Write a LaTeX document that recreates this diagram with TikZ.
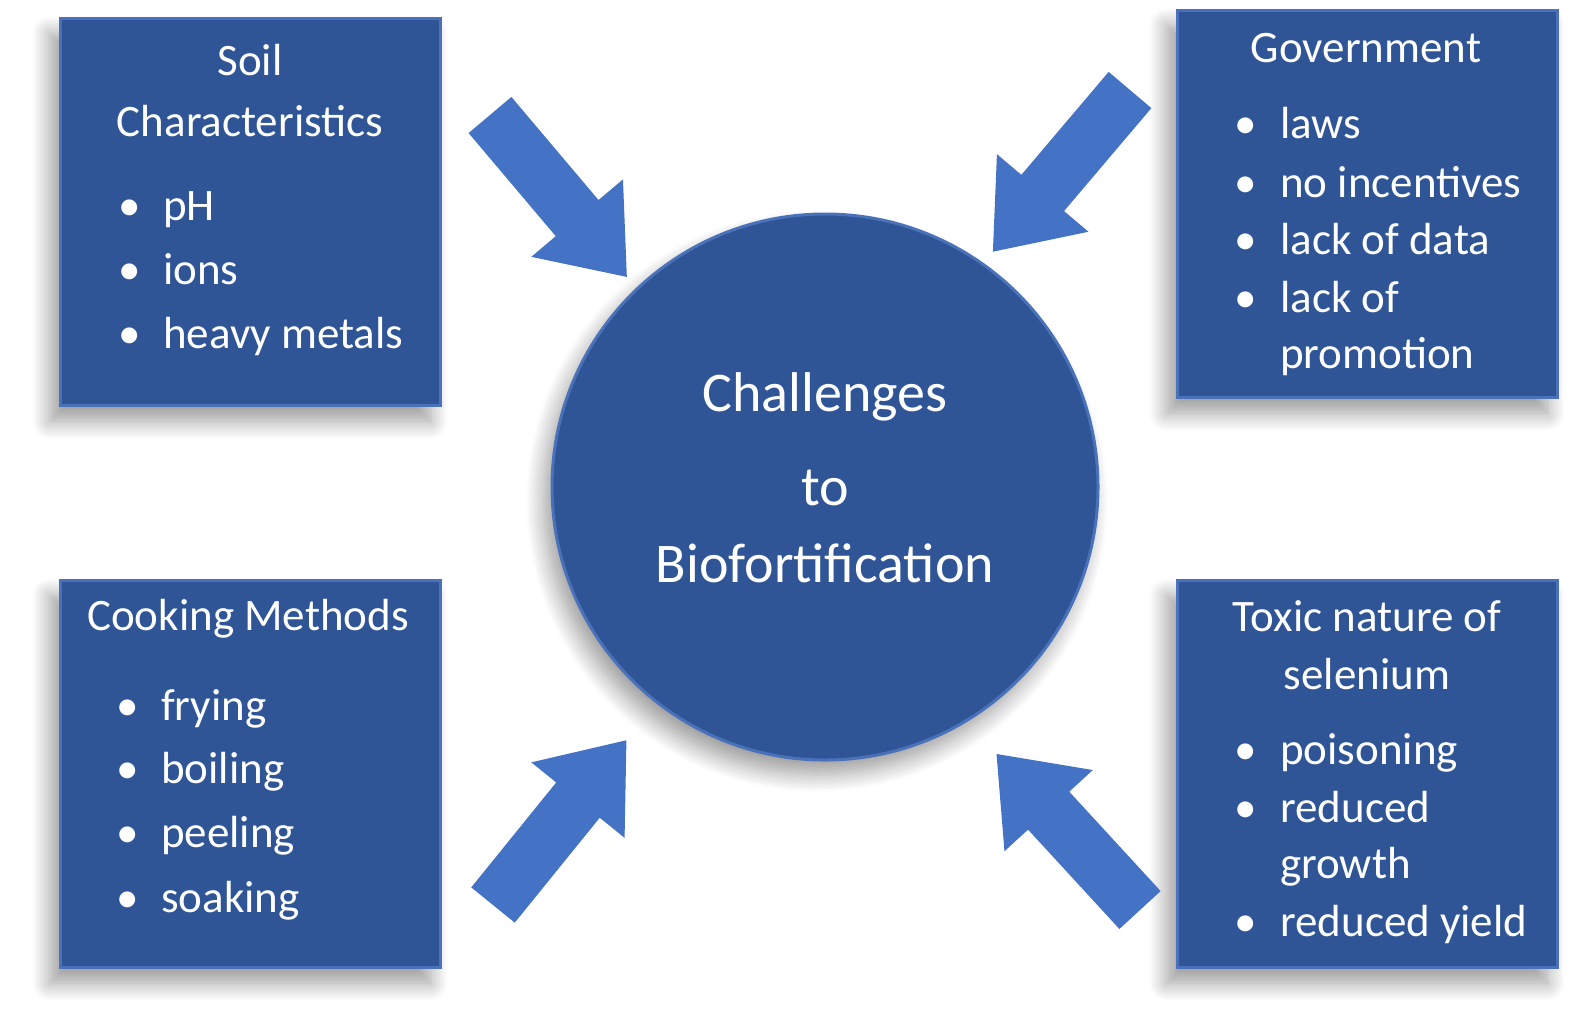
\documentclass[tikz,border=0pt]{standalone}
\usepackage{fontspec}
\setmainfont{Carlito}
\usetikzlibrary{shadows.blur}
\definecolor{boxblue}{HTML}{2F5597}
\definecolor{edgeblue}{HTML}{4A72BA}
\definecolor{arrblue}{HTML}{4472C4}
\begin{document}
\begin{tikzpicture}[x=1pt,y=-1pt,
  panel/.style={fill=boxblue,draw=edgeblue,line width=3pt,blur shadow={shadow xshift=-10pt,shadow yshift=-16pt,shadow blur radius=18pt,shadow blur steps=14,shadow opacity=40}},
  txt/.style={text=white,font=\fontsize{45}{52}\selectfont,inner sep=0pt},
  ttl/.style={txt,anchor=center},
  itm/.style={txt,anchor=base west},
  bul/.style={txt,anchor=base},
  bigt/.style={ttl,font=\fontsize{56}{64}\selectfont},
  barrow/.style={fill=arrblue}]
\useasboundingbox (0,0) rectangle (1570,1018);
% boxes
\draw[panel] (60,18) rectangle (440,405);
\draw[panel] (1177,10) rectangle (1557,397);
\draw[panel] (60,580) rectangle (440,967);
\draw[panel] (1177,580) rectangle (1557,967);
% circle
\node[circle,minimum size=546pt,fill=boxblue,draw=edgeblue,line width=3pt,blur shadow={shadow xshift=-8pt,shadow yshift=-14pt,shadow blur radius=18pt,shadow blur steps=14,shadow opacity=40}] (c) at (825,487) {};
\node[bigt] (c1) at (825,397) {Challenges};
\node[bigt] (c2) at (825,488) {to};
\node[bigt] (c3) at (825,563) {Biofortification};
% arrows
\foreach \px/\py/\ang in {490/115/-49.8, 1130/90/-130.3, 493/905/51, 1140/910/132.6}{
  \begin{scope}[shift={(\px,\py)},rotate=\ang]
    \fill[barrow] (0,-28) -- (135,-28) -- (135,-60) -- (212,0) -- (135,60) -- (135,28) -- (0,28) -- cycle;
  \end{scope}}
% Soil
\node[ttl] (s0) at (250,60) {Soil};
\node[ttl] (s1) at (250,121) {Characteristics};
\foreach \y/\t [count=\i] in {220/pH,284/ions,348/heavy metals}{
  \node[bul] (sb\i) at (130,\y) {\textbullet};
  \node[itm] (st\i) at (163,\y) {\t};}
% Government
\node[ttl] (g0) at (1366,48) {Government};
\foreach \y/\t [count=\i] in {138/laws,197/no incentives,254/lack of data,312/lack of}{
  \node[bul] (gb\i) at (1246,\y) {\textbullet};
  \node[itm] (gt\i) at (1280,\y) {\t};}
\node[itm] (gt5) at (1280,368) {promotion};
% Cooking
\node[ttl] (k0) at (248,619) {Cooking Methods};
\foreach \y/\t [count=\i] in {720/frying,783/boiling,847/peeling,912/soaking}{
  \node[bul] (kb\i) at (128,\y) {\textbullet};
  \node[itm] (kt\i) at (161,\y) {\t};}
% Toxic
\node[ttl] (t0) at (1367,616) {Toxic nature of};
\node[ttl] (t1) at (1367,674) {selenium};
\foreach \y/\t [count=\i] in {764/poisoning,822/reduced,936/reduced yield}{
  \node[bul] (tb\i) at (1246,\y) {\textbullet};
  \node[itm] (tt\i) at (1280,\y) {\t};}
\node[itm] (tt4) at (1280,878) {growth};
\end{tikzpicture}
\end{document}
